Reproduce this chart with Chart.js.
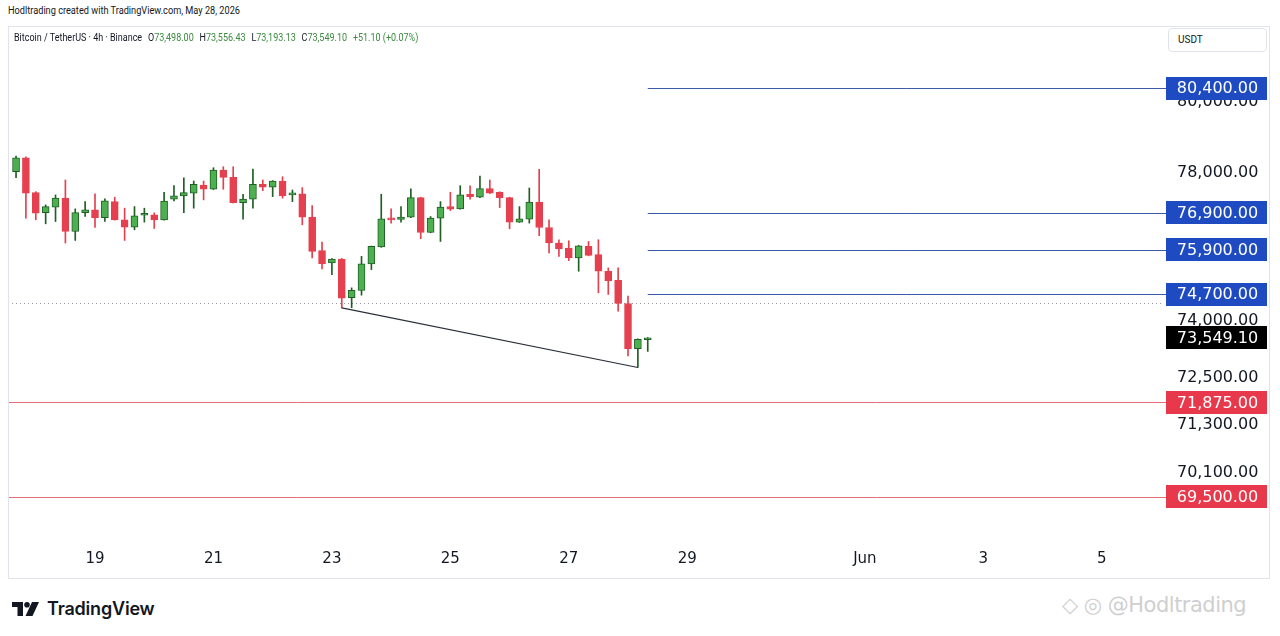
<!DOCTYPE html>
<html>
<head>
<meta charset="utf-8">
<script src="https://cdn.jsdelivr.net/npm/chart.js@4.4.1/dist/chart.umd.min.js"></script>
<style>
  body { margin: 0; background: #fff; width: 1280px; height: 636px; overflow: hidden; position: relative; font-family: Roboto, "Liberation Sans", sans-serif; color: #131722; }
  #credit { position: absolute; left: 8px; top: 5px; font-size: 10px; white-space: nowrap; transform: scaleX(0.92); transform-origin: left top; }
  #wrap { position: absolute; left: 8px; top: 26px; width: 1262px; height: 553px; }
  #frame { position: absolute; left: 8px; top: 26px; width: 1262px; height: 553px; box-sizing: border-box; border: 1px solid #e0e3eb; pointer-events: none; }
  #legend { position: absolute; left: 14px; top: 32px; font-size: 10px; white-space: nowrap; transform: scaleX(0.9); transform-origin: left top; }
  #legend .v { color: #3b8a3e; }
  #legend .k { margin-left: 4px; }
  #unit { position: absolute; left: 1168px; top: 28px; width: 99px; height: 24px; box-sizing: border-box; border: 1px solid #e0e3eb; border-radius: 4px; font-size: 10px; line-height: 22px; padding-left: 9px; background: #fff; }
  #logo { position: absolute; left: 12px; top: 598px; display: flex; align-items: center; }
  #logo span { font-family: Inter, Roboto, sans-serif; font-weight: 600; font-size: 18px; margin-left: 8px; color: #131722; letter-spacing: -0.2px; }
  #mark { position: absolute; left: 1062px; top: 593px; font-family: "DejaVu Sans", sans-serif; font-size: 21px; color: #cfcfcf; letter-spacing: -0.5px; }
</style>
</head>
<body>
<div id="credit">Hodltrading created with TradingView.com, May 28, 2026</div>
<div id="wrap"><canvas id="c" width="1262" height="553"></canvas></div>
<div id="frame"></div>
<div id="legend">Bitcoin / TetherUS · 4h · Binance <span class="k">O</span><span class="v">73,498.00</span> <span class="k">H</span><span class="v">73,556.43</span> <span class="k">L</span><span class="v">73,193.13</span> <span class="k">C</span><span class="v">73,549.10</span> <span class="v k">+51.10 (+0.07%)</span></div>
<div id="unit">USDT</div>
<div id="logo">
  <svg width="27" height="14" viewBox="0 0 27 14"><path d="M0 0H11V14H5.5V5H0Z" fill="#131722"/><circle cx="15" cy="2.8" r="2.8" fill="#131722"/><path d="M20 0H27L20.5 14H13.5Z" fill="#131722"/></svg>
  <span>TradingView</span>
</div>
<div id="mark">◇ ◎ @Hodltrading</div>
<script>
// 4h candles, first one May 17 16:00; x axis counts hours from May 17 00:00
const startHour = 16
const stepHours = 4

const opens = [
  78036, 78425, 77456, 76908, 77056, 77303, 76391, 76908, 76982, 76771,
  77209, 76709, 76510, 76835, 76845, 76709, 77275, 77366, 77439, 77668,
  77549, 78083, 77880, 77182, 77275, 77688, 77605, 77778, 77393, 77420,
  76782, 75869, 75538, 75646, 74606, 74800, 75512, 75970, 76755, 76717,
  76782, 77319, 76364, 76755, 77072, 77009, 77412, 77330, 77567, 77467,
  77319, 76646, 76728, 77193, 76500, 76077, 75942, 75673, 75986, 75762,
  75315, 75074, 74455, 73267, 73498.00
]
const highs = [
  78472, 78453, 77483, 77119, 77393, 77806, 77009, 77209, 77420, 77283,
  77330, 77028, 77072, 77028, 76900, 77467, 77649, 77869, 77778, 77778,
  78147, 78175, 78175, 77412, 78111, 77806, 77790, 77897, 77530, 77594,
  77100, 76104, 75654, 75660, 74871, 75716, 75995, 77412, 77009, 77072,
  77558, 77330, 76799, 77209, 77467, 77649, 77641, 77916, 77806, 77480,
  77330, 77072, 77585, 78102, 76709, 76166, 76139, 76015, 76120, 76166,
  75405, 75405, 74649, 73520, 73556.43
]
const lows = [
  77869, 76755, 76709, 76600, 76663, 76077, 76147, 76799, 76500, 76663,
  76700, 76147, 76437, 76646, 76472, 76700, 77228, 76908, 77028, 77256,
  77540, 77549, 77170, 76728, 77028, 77511, 77346, 77303, 77209, 76573,
  75673, 75379, 75226, 74336, 74342, 74676, 75360, 75960, 76619, 76646,
  76770, 76193, 76355, 76120, 76963, 77000, 77275, 77320, 77430, 77045,
  76464, 76636, 76619, 76275, 75807, 75716, 75600, 75315, 75730, 74739,
  74694, 74252, 73075, 72775, 73193.13
]
const closes = [
  78425, 77439, 76892, 77072, 77303, 76391, 76908, 76982, 76771, 77228,
  76709, 76510, 76817, 76845, 76709, 77220, 77366, 77456, 77688, 77549,
  78083, 77880, 77182, 77275, 77688, 77605, 77778, 77366, 77420, 76782,
  75850, 75520, 75646, 74596, 74808, 75512, 75986, 76736, 76709, 76782,
  77319, 76364, 76755, 77056, 77001, 77393, 77346, 77567, 77439, 77319,
  76646, 76736, 77193, 76500, 76077, 75923, 75673, 76004, 75743, 75315,
  75066, 74455, 73267, 73510, 73549.10
]

const priceTicks = [70100, 71300, 72500, 74000, 78000, 80000]
const dayTicks = [48, 96, 144, 192, 240, 288, 360, 408, 456]
const dayLabels = ['19', '21', '23', '25', '27', '29', 'Jun', '3', '5']

const resistance = [80400, 76900, 75900, 74700]
const support = [71875, 69500]
const lastPrice = 73549.10
const dottedPrice = 74480
// trend line joins the lows of these two candles
const trendFrom = 33
const trendTo = 63

const up = '#4caf50'
const upEdge = '#1f5f24'
const down = '#e5404f'
const blue = '#1e4bc2'
const red = '#e8384c'

const hours = opens.map((o, i) => startHour + stepHours * i)
const isUp = i => closes[i] >= opens[i]
const fmt = v => v.toLocaleString('en-US', { minimumFractionDigits: 2, maximumFractionDigits: 2 })

const drawings = {
  id: 'drawings',
  beforeDatasetsDraw (chart) {
    const { ctx, chartArea, scales: { y } } = chart
    const py = Math.round(y.getPixelForValue(dottedPrice)) + 0.5
    ctx.save()
    ctx.strokeStyle = '#9598a1'
    ctx.setLineDash([1, 3])
    ctx.beginPath()
    ctx.moveTo(chartArea.left, py)
    ctx.lineTo(chartArea.right, py)
    ctx.stroke()
    ctx.restore()
  },
  afterDatasetsDraw (chart) {
    const { ctx, chartArea, scales: { x, y } } = chart
    const end = chartArea.right + 4
    ctx.save()
    ctx.lineWidth = 1
    ctx.strokeStyle = '#3d5aa8'
    const startX = x.getPixelForValue(hours[hours.length - 1])
    resistance.forEach(p => {
      const py = Math.round(y.getPixelForValue(p)) + 0.5
      ctx.beginPath(); ctx.moveTo(startX, py); ctx.lineTo(end, py); ctx.stroke()
    })
    ctx.strokeStyle = '#e66b77'
    support.forEach(p => {
      const py = Math.round(y.getPixelForValue(p)) + 0.5
      ctx.beginPath(); ctx.moveTo(chartArea.left, py); ctx.lineTo(end, py); ctx.stroke()
    })
    ctx.strokeStyle = '#2a2e39'
    ctx.lineWidth = 1.2
    ctx.beginPath()
    ctx.moveTo(x.getPixelForValue(hours[trendFrom]), y.getPixelForValue(lows[trendFrom]))
    ctx.lineTo(x.getPixelForValue(hours[trendTo]), y.getPixelForValue(lows[trendTo]))
    ctx.stroke()
    ctx.restore()
  },
  afterDraw (chart) {
    const { ctx, chartArea, scales: { y } } = chart
    const left = chartArea.right + 4
    const w = 101
    const h = 23
    const tag = (p, bg) => {
      const py = y.getPixelForValue(p)
      ctx.fillStyle = bg
      ctx.fillRect(left, Math.round(py - h / 2), w, h)
      ctx.fillStyle = '#fff'
      ctx.font = '16px "DejaVu Sans"'
      ctx.textAlign = 'center'
      ctx.textBaseline = 'middle'
      ctx.fillText(fmt(p), left + w / 2 + 1, py + 1)
    }
    ctx.save()
    resistance.forEach(p => tag(p, blue))
    support.forEach(p => tag(p, red))
    tag(lastPrice, '#000')
    ctx.restore()
  }
}

const chart = new Chart(document.getElementById('c'), {
  type: 'bar',
  data: {
    datasets: [{
      label: 'wicks',
      data: hours.map((h, i) => ({ x: h, y: [lows[i], highs[i]] })),
      backgroundColor: c => isUp(c.dataIndex) ? upEdge : down,
      barThickness: 1,
      grouped: false,
      order: 2
    }, {
      label: 'bodies',
      data: hours.map((h, i) => ({ x: h, y: [opens[i], closes[i]] })),
      backgroundColor: c => isUp(c.dataIndex) ? up : down,
      borderColor: c => isUp(c.dataIndex) ? upEdge : down,
      borderWidth: 1,
      borderSkipped: false,
      barThickness: 7,
      minBarLength: 2,
      grouped: false,
      order: 1
    }]
  },
  options: {
    responsive: false,
    animation: false,
    layout: { padding: 0 },
    plugins: { legend: { display: false }, tooltip: { enabled: false } },
    scales: {
      x: {
        type: 'linear',
        min: 12.74,
        max: 480.4,
        offset: false,
        grid: { display: false, drawTicks: false },
        border: { display: false },
        afterBuildTicks: s => { s.ticks = dayTicks.map(v => ({ value: v })) },
        afterFit: s => { s.height = 39; s.paddingLeft = 0; s.paddingRight = 0 },
        ticks: {
          autoSkip: false,
          maxRotation: 0,
          padding: 10,
          color: '#131722',
          font: { family: 'DejaVu Sans', size: 15 },
          callback: v => dayLabels[dayTicks.indexOf(v)]
        }
      },
      y: {
        type: 'logarithmic',
        position: 'right',
        min: 68434,
        max: 82197,
        bounds: 'data',
        grid: { display: false, drawTicks: false },
        border: { display: false },
        afterBuildTicks: s => { s.ticks = priceTicks.map(v => ({ value: v })) },
        afterFit: s => { s.width = 108; s.paddingTop = 0; s.paddingBottom = 0 },
        ticks: {
          crossAlign: 'near',
          padding: 15,
          color: '#131722',
          font: { family: 'DejaVu Sans', size: 16 },
          callback: v => fmt(v)
        }
      }
    }
  },
  plugins: [drawings]
})
</script>
</body>
</html>
